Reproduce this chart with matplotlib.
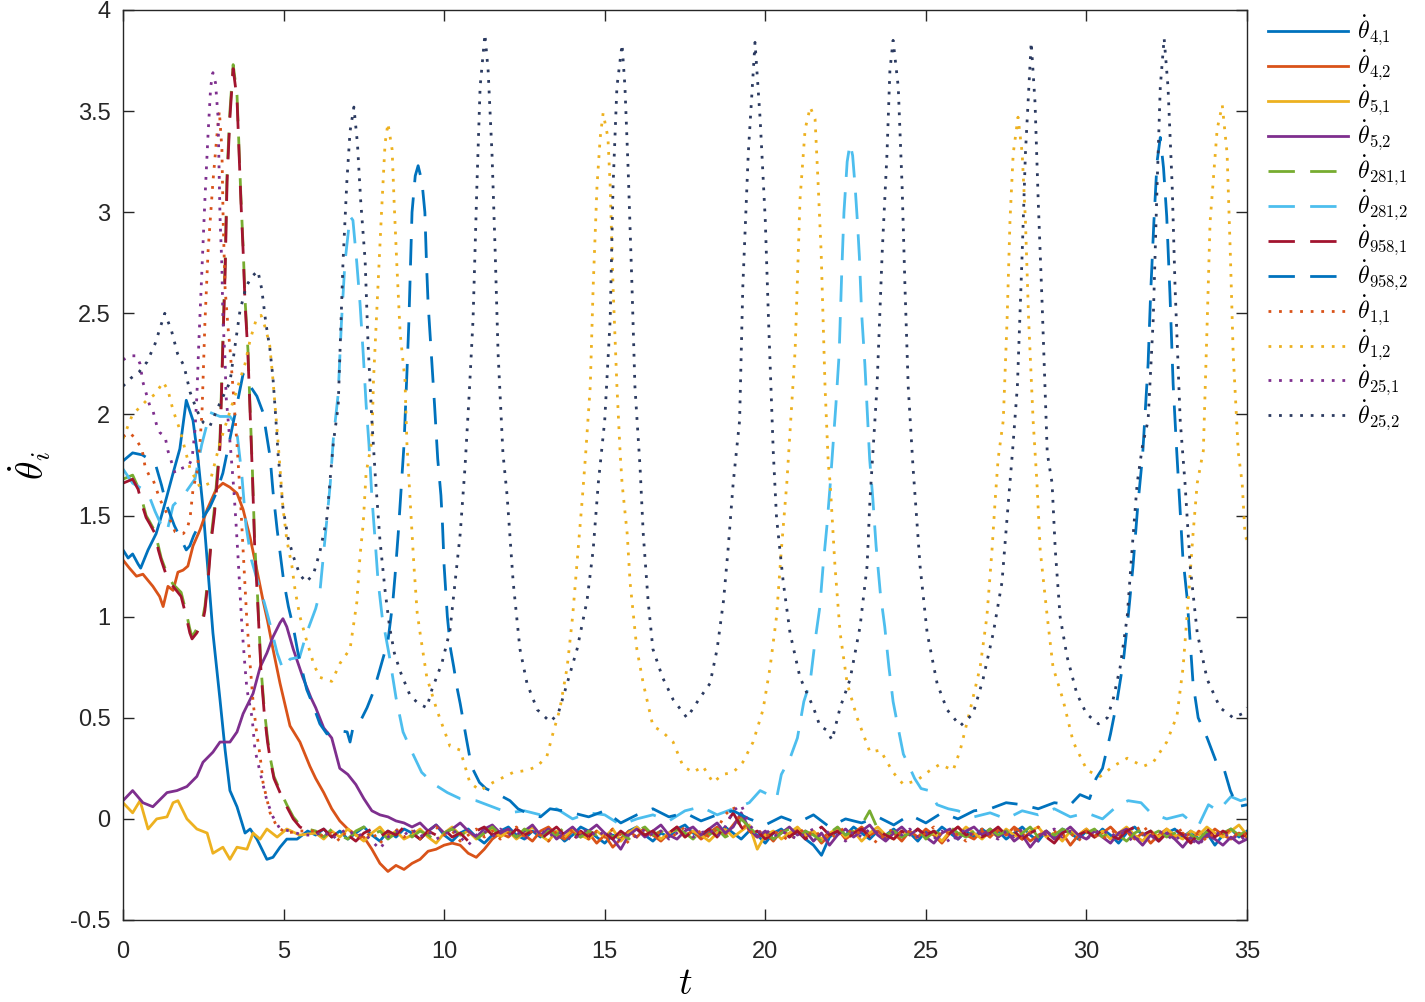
import numpy as np
import matplotlib
matplotlib.use('Agg')
import matplotlib.pyplot as plt
from matplotlib.ticker import FormatStrFormatter

plt.rcParams['mathtext.fontset'] = 'cm'
plt.rcParams['font.family'] = ['Liberation Sans', 'DejaVu Sans']

# ---------------- data ----------------
NOISE_T0 = 6.0      # first sample time of the noisy tails
NOISE_DT = 0.25     # sample spacing of the noisy tails

labels = [r'$\dot{\theta}_{4{,}1}$', r'$\dot{\theta}_{4{,}2}$', r'$\dot{\theta}_{5{,}1}$', r'$\dot{\theta}_{5{,}2}$',
          r'$\dot{\theta}_{281{,}1}$', r'$\dot{\theta}_{281{,}2}$', r'$\dot{\theta}_{958{,}1}$', r'$\dot{\theta}_{958{,}2}$',
          r'$\dot{\theta}_{1{,}1}$', r'$\dot{\theta}_{1{,}2}$', r'$\dot{\theta}_{25{,}1}$', r'$\dot{\theta}_{25{,}2}$']

head_4_1 = [(0, 1.33), (0.16, 1.29), (0.3, 1.31), (0.47, 1.26), (0.55, 1.24), (0.78, 1.33), (1.03, 1.41),
            (1.2, 1.50), (1.34, 1.58), (1.56, 1.71), (1.77, 1.83), (1.97, 2.07), (2.18, 1.97), (2.33, 1.79),
            (2.49, 1.54), (2.65, 1.22), (2.8, 0.92), (3.02, 0.59), (3.18, 0.34), (3.33, 0.14), (3.55, 0.06),
            (3.8, -0.07), (3.96, -0.05), (4.17, -0.10), (4.48, -0.20), (4.67, -0.19), (4.89, -0.14),
            (5.1, -0.10), (5.42, -0.10), (5.75, -0.06)]
noise_4_1 = [-0.08, -0.05, -0.09, -0.06, -0.10, -0.07, -0.04, -0.08, -0.11, -0.06, -0.09, -0.05,
             -0.07, -0.10, -0.06, -0.03, -0.08, -0.11, -0.07, -0.05, -0.09, -0.12, -0.08, -0.06,
             -0.04, -0.08, -0.10, -0.06, -0.09, -0.05, -0.07, -0.11, -0.08, -0.04, -0.06, -0.09,
             -0.12, -0.08, -0.10, -0.06, -0.04, -0.08, -0.11, -0.07, -0.09, -0.05, -0.03, -0.07,
             -0.09, -0.06, -0.08, -0.04, -0.07, -0.10, -0.06, -0.08, -0.12, -0.07, -0.05, -0.09,
             -0.06, -0.10, -0.13, -0.18, -0.09, -0.06, -0.08, -0.04, -0.07, -0.10, -0.06, -0.08,
             -0.05, -0.09, -0.07, -0.11, -0.06, -0.08, -0.04, -0.07, -0.10, -0.06, -0.09, -0.05,
             -0.08, -0.06, -0.10, -0.07, -0.04, -0.08, -0.11, -0.06, -0.09, -0.05, -0.07, -0.10,
             -0.06, -0.09, -0.05, -0.08, -0.12, -0.07, -0.04, -0.08, -0.06, -0.10, -0.07, -0.05,
             -0.09, -0.06, -0.10, -0.07, -0.13, -0.08, -0.05, -0.09, -0.06]

head_4_2 = [(0, 1.28), (0.2, 1.24), (0.42, 1.20), (0.62, 1.21), (0.93, 1.15), (1.14, 1.10), (1.25, 1.05),
            (1.4, 1.15), (1.56, 1.13), (1.71, 1.22), (1.87, 1.23), (2.02, 1.25), (2.18, 1.35), (2.4, 1.43),
            (2.62, 1.53), (2.9, 1.63), (3.11, 1.66), (3.33, 1.64), (3.55, 1.61), (3.74, 1.53), (3.96, 1.39),
            (4.17, 1.23), (4.36, 1.08), (4.5, 0.98), (4.67, 0.84), (4.89, 0.67), (5.2, 0.46), (5.51, 0.38),
            (5.82, 0.26)]
noise_4_2 = [0.20, 0.13, 0.05, -0.01, -0.05, -0.08, -0.09, -0.15, -0.22, -0.26, -0.23, -0.25,
             -0.22, -0.20, -0.16, -0.15, -0.13, -0.12, -0.13, -0.17, -0.19, -0.15, -0.10, -0.07,
             -0.09, -0.05, -0.08, -0.11, -0.06, -0.04, -0.08, -0.10, -0.06, -0.09, -0.07, -0.12,
             -0.08, -0.14, -0.10, -0.06, -0.09, -0.05, -0.08, -0.11, -0.07, -0.04, -0.08, -0.06,
             -0.10, -0.07, -0.04, -0.08, -0.03, 0.02, -0.06, -0.09, -0.07, -0.11, -0.06, -0.08,
             -0.05, -0.09, -0.07, -0.12, -0.08, -0.05, -0.10, -0.07, -0.04, -0.08, -0.06, -0.10,
             -0.07, -0.11, -0.06, -0.09, -0.05, -0.08, -0.12, -0.07, -0.04, -0.08, -0.10, -0.06,
             -0.09, -0.05, -0.08, -0.04, -0.07, -0.11, -0.08, -0.06, -0.10, -0.07, -0.13, -0.08,
             -0.05, -0.09, -0.07, -0.04, -0.08, -0.06, -0.10, -0.07, -0.12, -0.08, -0.05, -0.09,
             -0.07, -0.11, -0.06, -0.09, -0.05, -0.08, -0.10, -0.07, -0.09]

head_5_1 = [(0, 0.08), (0.3, 0.03), (0.53, 0.09), (0.78, -0.05), (1.05, 0.0), (1.37, 0.01), (1.56, 0.08),
            (1.71, 0.09), (1.99, 0.0), (2.3, -0.05), (2.62, -0.07), (2.8, -0.17), (3.11, -0.14), (3.33, -0.20),
            (3.55, -0.14), (3.86, -0.15), (4.05, -0.07), (4.27, -0.10), (4.48, -0.05), (4.8, -0.09),
            (5.1, -0.05), (5.5, -0.08)]
noise_5_1 = [-0.07, -0.10, -0.06, -0.09, -0.05, -0.08, -0.11, -0.07, -0.04, -0.09, -0.06, -0.10,
             -0.08, -0.05, -0.09, -0.12, -0.07, -0.04, -0.08, -0.06, -0.10, -0.07, -0.05, -0.09,
             -0.06, -0.10, -0.07, -0.04, -0.08, -0.11, -0.06, -0.09, -0.05, -0.08, -0.10, -0.06,
             -0.09, -0.05, -0.11, -0.07, -0.04, -0.08, -0.06, -0.10, -0.07, -0.05, -0.09, -0.06,
             -0.08, -0.11, -0.07, -0.05, -0.09, -0.06, -0.03, -0.15, -0.08, -0.06, -0.10, -0.07,
             -0.04, -0.08, -0.06, -0.10, -0.07, -0.05, -0.09, -0.06, -0.11, -0.07, -0.04, -0.08,
             -0.10, -0.06, -0.08, -0.05, -0.09, -0.07, -0.11, -0.06, -0.08, -0.04, -0.07, -0.10,
             -0.06, -0.09, -0.05, -0.08, -0.10, -0.06, -0.04, -0.09, -0.07, -0.11, -0.06, -0.08,
             -0.05, -0.09, -0.06, -0.10, -0.07, -0.04, -0.08, -0.11, -0.06, -0.09, -0.05, -0.08,
             -0.10, -0.06, -0.08, -0.04, -0.07, -0.09, -0.06, -0.03, -0.08]

head_5_2 = [(0, 0.09), (0.3, 0.14), (0.62, 0.08), (0.93, 0.06), (1.37, 0.13), (1.68, 0.14), (1.99, 0.16),
            (2.3, 0.21), (2.49, 0.28), (2.8, 0.33), (3.02, 0.38), (3.33, 0.38), (3.55, 0.43), (3.74, 0.52),
            (4.05, 0.62), (4.27, 0.75), (4.48, 0.82), (4.67, 0.90), (4.89, 0.97), (4.98, 0.99), (5.1, 0.95),
            (5.3, 0.84), (5.6, 0.70), (5.85, 0.60)]
noise_5_2 = [0.55, 0.45, 0.40, 0.25, 0.22, 0.17, 0.10, 0.04, 0.02, 0.01, -0.01, -0.02,
             -0.04, -0.02, -0.06, -0.03, -0.07, -0.05, -0.02, -0.06, -0.09, -0.05, -0.03, -0.07,
             -0.05, -0.09, -0.06, -0.03, -0.08, -0.05, -0.10, -0.07, -0.04, -0.08, -0.06, -0.03,
             -0.07, -0.10, -0.15, -0.08, -0.05, -0.09, -0.06, -0.03, -0.08, -0.10, -0.06, -0.04,
             -0.08, -0.05, -0.02, -0.07, -0.04, 0.03, -0.05, -0.09, -0.06, -0.10, -0.07, -0.04,
             -0.08, -0.06, -0.11, -0.07, -0.13, -0.08, -0.05, -0.09, -0.06, -0.03, -0.08, -0.11,
             -0.07, -0.04, -0.08, -0.05, -0.09, -0.12, -0.07, -0.05, -0.10, -0.06, -0.04, -0.08,
             -0.05, -0.09, -0.06, -0.11, -0.08, -0.14, -0.09, -0.06, -0.10, -0.07, -0.04, -0.08,
             -0.10, -0.06, -0.09, -0.12, -0.07, -0.05, -0.09, -0.13, -0.08, -0.11, -0.07, -0.10,
             -0.14, -0.09, -0.12, -0.08, -0.10, -0.13, -0.09, -0.12, -0.10]

head_281_1 = [(0, 1.68), (0.3, 1.70), (0.47, 1.64), (0.62, 1.56), (0.72, 1.50), (0.83, 1.47), (1.0, 1.42),
              (1.1, 1.35), (1.19, 1.29), (1.4, 1.20), (1.56, 1.16), (1.81, 1.12), (1.97, 1.02), (2.08, 0.94),
              (2.15, 0.90), (2.3, 0.94), (2.49, 1.0), (2.55, 1.05), (2.65, 1.20), (2.75, 1.40), (2.85, 1.54),
              (3.02, 1.88), (3.11, 2.38), (3.18, 2.75), (3.24, 3.19), (3.33, 3.50), (3.43, 3.73), (3.55, 3.58),
              (3.61, 3.33), (3.67, 3.08), (3.74, 2.83), (3.8, 2.57), (3.89, 2.32), (3.96, 2.02), (4.03, 1.72),
              (4.1, 1.37), (4.2, 1.07), (4.3, 0.74), (4.4, 0.54), (4.5, 0.40), (4.6, 0.29), (4.7, 0.21),
              (4.89, 0.14), (5.1, 0.07), (5.3, 0.01), (5.51, -0.03), (5.75, -0.05)]
noise_281_1 = [-0.06, -0.09, -0.05, -0.08, -0.10, -0.06, -0.04, -0.08, -0.06, -0.10, -0.07, -0.05,
               -0.09, -0.06, -0.08, -0.11, -0.07, -0.05, -0.08, -0.06, -0.10, -0.07, -0.04, -0.08,
               -0.06, -0.09, -0.05, -0.07, -0.10, -0.06, -0.08, -0.04, -0.07, -0.09, -0.06, -0.08,
               -0.05, -0.09, -0.07, -0.10, -0.06, -0.04, -0.08, -0.06, -0.09, -0.05, -0.07, -0.10,
               -0.06, -0.08, -0.05, -0.09, -0.07, 0.00, -0.04, -0.08, -0.06, -0.10, -0.07, -0.05,
               -0.09, -0.06, -0.08, -0.11, -0.07, -0.04, -0.08, -0.06, -0.03, 0.04, -0.05, -0.08,
               -0.06, -0.09, -0.07, -0.05, -0.10, -0.06, -0.08, -0.04, -0.07, -0.09, -0.06, -0.08,
               -0.05, -0.08, -0.06, -0.10, -0.07, -0.04, -0.09, -0.06, -0.08, -0.05, -0.07, -0.10,
               -0.07, -0.05, -0.09, -0.06, -0.08, -0.11, -0.07, -0.05, -0.08, -0.06, -0.09, -0.07,
               -0.05, -0.08, -0.10, -0.06, -0.09, -0.07, -0.05, -0.08, -0.06]

head_958_1 = [(0, 1.66), (0.3, 1.68), (0.47, 1.63), (0.62, 1.54), (0.72, 1.49), (0.83, 1.46), (1.0, 1.41),
              (1.1, 1.33), (1.19, 1.28), (1.4, 1.18), (1.56, 1.15), (1.81, 1.10), (1.97, 1.0), (2.08, 0.92),
              (2.15, 0.89), (2.3, 0.92), (2.49, 0.98), (2.55, 1.03), (2.65, 1.18), (2.75, 1.38), (2.85, 1.51),
              (3.02, 1.84), (3.11, 2.34), (3.18, 2.70), (3.24, 3.15), (3.33, 3.47), (3.43, 3.71), (3.55, 3.56),
              (3.61, 3.31), (3.67, 3.06), (3.74, 2.81), (3.8, 2.55), (3.89, 2.30), (3.96, 2.0), (4.03, 1.70),
              (4.1, 1.35), (4.2, 1.05), (4.3, 0.72), (4.4, 0.52), (4.5, 0.38), (4.6, 0.28), (4.7, 0.20),
              (4.89, 0.13), (5.1, 0.06), (5.3, 0.0), (5.51, -0.04), (5.75, -0.06)]
noise_958_1 = [-0.07, -0.05, -0.09, -0.06, -0.08, -0.11, -0.07, -0.05, -0.09, -0.06, -0.08, -0.04,
               -0.07, -0.10, -0.06, -0.08, -0.05, -0.09, -0.07, -0.11, -0.06, -0.04, -0.08, -0.06,
               -0.09, -0.05, -0.08, -0.06, -0.10, -0.07, -0.04, -0.08, -0.11, -0.06, -0.09, -0.05,
               -0.07, -0.10, -0.06, -0.09, -0.05, -0.08, -0.06, -0.10, -0.07, -0.04, -0.09, -0.06,
               -0.08, -0.05, -0.09, -0.03, 0.03, -0.04, -0.08, -0.06, -0.10, -0.07, -0.05, -0.09,
               -0.06, -0.10, -0.07, -0.04, -0.08, -0.06, -0.11, -0.07, -0.05, -0.09, -0.06, -0.08,
               -0.10, -0.06, -0.09, -0.05, -0.08, -0.06, -0.10, -0.07, -0.04, -0.08, -0.06, -0.09,
               -0.07, -0.04, -0.08, -0.06, -0.10, -0.07, -0.05, -0.09, -0.12, -0.07, -0.05, -0.08,
               -0.06, -0.09, -0.05, -0.08, -0.10, -0.06, -0.04, -0.08, -0.06, -0.11, -0.07, -0.05,
               -0.08, -0.12, -0.07, -0.05, -0.09, -0.06, -0.08, -0.10, -0.07]

head_1_1 = [(0, 1.89), (0.22, 1.91), (0.43, 1.87), (0.59, 1.83), (0.69, 1.74), (0.84, 1.69), (0.93, 1.68),
            (1.15, 1.58), (1.37, 1.51), (1.52, 1.46), (1.62, 1.42), (1.78, 1.41), (1.87, 1.41), (1.99, 1.43),
            (2.09, 1.49), (2.18, 1.63), (2.3, 1.71), (2.4, 1.87), (2.46, 2.01), (2.55, 2.45), (2.65, 2.81),
            (2.8, 3.15), (2.93, 3.39), (3.0, 3.50), (3.08, 3.31), (3.12, 2.95), (3.18, 2.62), (3.27, 2.43),
            (3.33, 2.33), (3.43, 2.12), (3.55, 1.85), (3.65, 1.60), (3.75, 1.30), (3.85, 1.00), (3.95, 0.78),
            (4.05, 0.58), (4.15, 0.44), (4.27, 0.31), (4.36, 0.18), (4.58, 0.03), (4.8, -0.04), (5.1, -0.07),
            (5.5, -0.06)]
noise_1_1 = [-0.06, -0.09, -0.07, -0.11, -0.05, -0.08, -0.10, -0.06, -0.12, -0.08, -0.05, -0.09,
             -0.06, -0.10, -0.07, -0.04, -0.08, -0.06, -0.11, -0.08, -0.05, -0.09, -0.06, -0.10,
             -0.07, -0.04, -0.09, -0.06, -0.08, -0.11, -0.06, -0.09, -0.05, -0.07, -0.10, -0.06,
             -0.09, -0.05, -0.08, -0.12, -0.07, -0.05, -0.09, -0.06, -0.10, -0.07, -0.04, -0.08,
             -0.06, -0.09, -0.05, 0.02, 0.06, -0.02, -0.07, -0.05, -0.09, -0.06, -0.08, -0.11,
             -0.07, -0.05, -0.09, -0.06, -0.10, -0.07, -0.04, -0.08, -0.06, -0.09, -0.12, -0.07,
             -0.05, -0.08, -0.06, -0.10, -0.07, -0.04, -0.09, -0.06, -0.08, -0.11, -0.07, -0.05,
             -0.09, -0.06, -0.08, -0.05, -0.10, -0.07, -0.04, -0.08, -0.06, -0.09, -0.07, -0.11,
             -0.06, -0.08, -0.10, -0.07, -0.05, -0.09, -0.06, -0.03, -0.08, -0.06, -0.09, -0.07,
             -0.05, -0.09, -0.07, -0.11, -0.06, -0.08, -0.05, -0.09, -0.07]

head_25_1 = [(0, 2.27), (0.22, 2.29), (0.43, 2.29), (0.53, 2.25), (0.62, 2.16), (0.84, 2.04), (0.93, 2.02),
             (1.06, 1.94), (1.15, 1.91), (1.31, 1.89), (1.4, 1.82), (1.52, 1.76), (1.62, 1.71), (1.78, 1.73),
             (1.93, 1.74), (2.02, 1.74), (2.15, 1.78), (2.24, 1.92), (2.3, 2.09), (2.36, 2.35), (2.46, 2.73),
             (2.55, 3.06), (2.65, 3.39), (2.73, 3.62), (2.8, 3.69), (2.88, 3.64), (2.96, 3.47), (2.99, 3.22),
             (3.02, 2.98), (3.08, 2.73), (3.11, 2.48), (3.18, 2.26), (3.21, 2.09), (3.3, 1.92), (3.36, 1.81),
             (3.45, 1.63), (3.52, 1.46), (3.58, 1.30), (3.64, 1.13), (3.7, 0.96), (3.8, 0.75), (3.86, 0.64),
             (4.02, 0.50), (4.11, 0.34), (4.27, 0.23), (4.48, 0.09), (4.67, 0.01), (4.89, -0.05),
             (5.2, -0.06), (5.6, -0.08)]
noise_25_1 = [-0.08, -0.06, -0.10, -0.07, -0.05, -0.09, -0.07, -0.11, -0.15, -0.09, -0.06, -0.08,
              -0.05, -0.09, -0.06, -0.10, -0.08, -0.05, -0.09, -0.13, -0.08, -0.06, -0.09, -0.05,
              -0.08, -0.06, -0.10, -0.07, -0.05, -0.09, -0.06, -0.08, -0.11, -0.07, -0.05, -0.09,
              -0.06, -0.08, -0.11, -0.07, -0.09, -0.05, -0.08, -0.06, -0.10, -0.07, -0.05, -0.09,
              -0.07, -0.05, -0.09, -0.04, 0.04, 0.07, -0.03, -0.07, -0.05, -0.09, -0.06, -0.08,
              -0.10, -0.07, -0.05, -0.09, -0.06, -0.08, -0.11, -0.06, -0.09, -0.05, -0.07, -0.10,
              -0.06, -0.08, -0.05, -0.09, -0.07, -0.10, -0.06, -0.12, -0.08, -0.05, -0.09, -0.06,
              -0.08, -0.10, -0.06, -0.09, -0.05, -0.08, -0.11, -0.07, -0.05, -0.09, -0.06, -0.08,
              -0.10, -0.07, -0.05, -0.09, -0.06, -0.08, -0.12, -0.07, -0.10, -0.06, -0.08, -0.11,
              -0.07, -0.10, -0.13, -0.08, -0.06, -0.09, -0.07, -0.11, -0.08]

full_281_2 = [(0, 1.73), (0.3, 1.66), (0.62, 1.63), (0.83, 1.59), (1.0, 1.52), (1.2, 1.45), (1.37, 1.42),
              (1.56, 1.55), (1.93, 1.61), (2.24, 1.68), (2.45, 1.85), (2.71, 2.01), (3.02, 1.99), (3.33, 1.99),
              (3.52, 1.95), (3.7, 1.70), (3.83, 1.45), (4.0, 1.28), (4.2, 1.17), (4.4, 1.07), (4.6, 0.95),
              (4.8, 0.82), (4.98, 0.74), (5.2, 0.79), (5.5, 0.80), (5.72, 0.92), (6.0, 1.04), (6.13, 1.12),
              (6.3, 1.40), (6.45, 1.65), (6.55, 1.88), (6.7, 2.10), (6.8, 2.45), (6.91, 2.75), (7.07, 2.98),
              (7.16, 2.96), (7.28, 2.75), (7.38, 2.55), (7.48, 2.30), (7.57, 2.05), (7.66, 1.85), (7.75, 1.59),
              (7.85, 1.38), (7.94, 1.18), (8.07, 1.0), (8.3, 0.80), (8.5, 0.60), (8.72, 0.43), (9.0, 0.33),
              (9.3, 0.23), (9.7, 0.17), (10.1, 0.13), (10.5, 0.10), (11.0, 0.09), (11.5, 0.06), (12.0, 0.03),
              (12.5, 0.04), (13.0, 0.02), (13.5, 0.05), (14.0, 0.0), (14.5, 0.03), (15.0, 0.02), (15.5, -0.03),
              (16.0, 0.0), (16.5, 0.02), (17.0, -0.01), (17.5, 0.04), (18.0, 0.06), (18.5, 0.02), (19.0, 0.05),
              (19.5, 0.08), (19.84, 0.14), (20.1, 0.12), (20.35, 0.10), (20.5, 0.22), (20.77, 0.30),
              (21.0, 0.40), (21.2, 0.58), (21.4, 0.68), (21.55, 0.88), (21.7, 1.05), (21.8, 1.25),
              (21.92, 1.45), (22.02, 1.65), (22.11, 1.85), (22.2, 2.05), (22.3, 2.30), (22.38, 2.70),
              (22.45, 3.0), (22.55, 3.25), (22.64, 3.34), (22.72, 3.28), (22.8, 3.12), (22.87, 2.95),
              (22.93, 2.78), (23.0, 2.50), (23.1, 2.25), (23.18, 2.0), (23.25, 1.78), (23.35, 1.58),
              (23.45, 1.35), (23.58, 1.12), (23.72, 0.95), (23.85, 0.75), (23.98, 0.58), (24.15, 0.44),
              (24.3, 0.32), (24.45, 0.27), (24.65, 0.20), (24.85, 0.15), (25.1, 0.14), (25.35, 0.07),
              (25.7, 0.05), (26.0, 0.04), (26.5, 0.01), (27.0, 0.03), (27.5, 0.0), (28.0, 0.04), (28.5, 0.02),
              (29.0, 0.05), (29.5, 0.01), (30.0, 0.03), (30.5, 0.0), (31.0, 0.07), (31.3, 0.09), (31.7, 0.08),
              (32.0, 0.03), (32.5, 0.0), (33.0, 0.02), (33.3, -0.02), (33.5, -0.03), (33.8, 0.07),
              (34.1, 0.04), (34.5, 0.11), (34.8, 0.09), (35.0, 0.10)]

full_958_2 = [(0, 1.77), (0.3, 1.81), (0.6, 1.80), (1.0, 1.76), (1.2, 1.65), (1.34, 1.56), (1.6, 1.45),
              (1.97, 1.33), (2.08, 1.35), (2.2, 1.40), (2.45, 1.48), (2.7, 1.54), (2.9, 1.61), (3.11, 1.71),
              (3.33, 1.88), (3.55, 2.05), (3.74, 2.20), (3.96, 2.14), (4.17, 2.09), (4.36, 2.01), (4.58, 1.79),
              (4.67, 1.62), (4.8, 1.43), (5.0, 1.18), (5.15, 1.05), (5.3, 0.95), (5.45, 0.82), (5.72, 0.64),
              (5.9, 0.57), (6.13, 0.47), (6.35, 0.42), (6.6, 0.44), (6.98, 0.43), (7.07, 0.38), (7.16, 0.45),
              (7.38, 0.48), (7.6, 0.55), (7.8, 0.63), (8.0, 0.74), (8.25, 0.88), (8.4, 1.07), (8.47, 1.20),
              (8.57, 1.41), (8.66, 1.63), (8.75, 1.85), (8.84, 2.20), (8.9, 2.45), (9.0, 3.0), (9.1, 3.18),
              (9.19, 3.23), (9.31, 3.15), (9.4, 3.0), (9.45, 2.75), (9.5, 2.55), (9.6, 2.30), (9.7, 2.05),
              (9.8, 1.78), (9.9, 1.60), (9.95, 1.45), (10.0, 1.25), (10.1, 1.0), (10.2, 0.84), (10.3, 0.75),
              (10.4, 0.65), (10.5, 0.57), (10.6, 0.48), (10.7, 0.39), (10.85, 0.26), (11.1, 0.18), (11.3, 0.15),
              (11.7, 0.12), (12.05, 0.09), (12.3, 0.05), (12.7, 0.02), (13.0, 0.01), (13.3, 0.05), (13.7, 0.04),
              (14.0, 0.03), (14.5, 0.01), (15.0, 0.04), (15.5, -0.02), (16.0, 0.02), (16.5, 0.05), (17.0, 0.01),
              (17.5, 0.03), (18.0, -0.01), (18.5, 0.02), (19.0, 0.04), (19.5, 0.0), (20.0, -0.03), (20.5, 0.01),
              (21.0, -0.02), (21.5, 0.02), (22.0, -0.04), (22.5, 0.0), (23.0, -0.02), (23.5, 0.01),
              (24.0, -0.03), (24.5, 0.02), (25.0, -0.02), (25.5, 0.03), (26.0, 0.0), (26.5, 0.04), (27.0, 0.05),
              (27.5, 0.08), (28.0, 0.07), (28.5, 0.05), (29.0, 0.08), (29.5, 0.07), (29.8, 0.12), (30.1, 0.10),
              (30.3, 0.20), (30.5, 0.25), (30.75, 0.42), (30.95, 0.58), (31.15, 0.78), (31.3, 1.0),
              (31.45, 1.25), (31.6, 1.55), (31.75, 1.80), (31.92, 2.25), (32.0, 2.60), (32.1, 2.95),
              (32.2, 3.25), (32.3, 3.37), (32.4, 3.22), (32.5, 2.98), (32.6, 2.60), (32.7, 2.15), (32.8, 1.85),
              (32.92, 1.52), (33.0, 1.30), (33.13, 1.10), (33.23, 0.88), (33.32, 0.67), (33.48, 0.50),
              (33.76, 0.40), (34.07, 0.27), (34.26, 0.26), (34.48, 0.14), (34.7, 0.06), (35.0, 0.07)]

full_1_2 = [(0, 1.88), (0.22, 1.97), (0.3, 2.0), (0.74, 2.07), (1.0, 2.10), (1.25, 2.16), (1.4, 2.12),
            (1.56, 2.02), (1.78, 1.92), (1.99, 1.79), (2.09, 1.73), (2.4, 1.64), (2.7, 1.66), (3.02, 1.86),
            (3.3, 2.0), (3.6, 2.15), (3.8, 2.25), (3.96, 2.37), (4.15, 2.47), (4.3, 2.49), (4.45, 2.42),
            (4.57, 2.34), (4.67, 2.17), (4.83, 1.86), (4.98, 1.54), (5.1, 1.38), (5.26, 1.25), (5.36, 1.13),
            (5.51, 1.0), (5.72, 0.88), (5.95, 0.76), (6.13, 0.70), (6.5, 0.68), (6.76, 0.77), (7.07, 0.84),
            (7.28, 1.07), (7.38, 1.30), (7.48, 1.46), (7.57, 1.71), (7.75, 1.87), (7.8, 2.17), (7.9, 2.50),
            (8.05, 3.0), (8.16, 3.34), (8.25, 3.44), (8.38, 3.31), (8.44, 3.06), (8.53, 2.73), (8.63, 2.40),
            (8.78, 2.17), (8.84, 1.86), (8.95, 1.55), (9.06, 1.25), (9.16, 1.02), (9.25, 0.92), (9.46, 0.70),
            (9.77, 0.54), (10.18, 0.36), (10.5, 0.34), (10.8, 0.18), (11.12, 0.14), (11.52, 0.18),
            (12.15, 0.23), (12.58, 0.24), (12.9, 0.26), (13.2, 0.31), (13.4, 0.43), (13.6, 0.54),
            (13.83, 0.75), (14.0, 1.0), (14.17, 1.33), (14.3, 1.58), (14.4, 1.79), (14.55, 2.14),
            (14.64, 2.63), (14.76, 3.13), (14.86, 3.37), (14.95, 3.49), (15.1, 3.37), (15.17, 3.13),
            (15.26, 2.63), (15.38, 2.14), (15.48, 1.81), (15.54, 1.66), (15.7, 1.41), (15.79, 1.17),
            (16.0, 0.84), (16.2, 0.67), (16.5, 0.46), (16.8, 0.43), (17.13, 0.38), (17.44, 0.26),
            (17.75, 0.23), (18.06, 0.26), (18.37, 0.18), (18.68, 0.22), (19.0, 0.23), (19.3, 0.28),
            (19.62, 0.38), (19.93, 0.54), (20.15, 0.75), (20.35, 1.0), (20.5, 1.33), (20.67, 1.66),
            (20.93, 2.32), (21.08, 3.06), (21.24, 3.41), (21.4, 3.52), (21.55, 3.46), (21.64, 3.16),
            (21.74, 2.80), (21.8, 2.47), (21.86, 2.14), (21.96, 1.76), (22.02, 1.66), (22.17, 1.25),
            (22.33, 0.92), (22.55, 0.67), (22.86, 0.50), (23.26, 0.33), (23.58, 0.34), (23.98, 0.23),
            (24.3, 0.17), (24.72, 0.19), (25.13, 0.24), (25.44, 0.27), (25.85, 0.24), (26.07, 0.34),
            (26.38, 0.54), (26.69, 0.75), (26.9, 1.0), (27.06, 1.33), (27.16, 1.58), (27.25, 1.78),
            (27.41, 1.97), (27.53, 2.47), (27.62, 2.96), (27.72, 3.29), (27.87, 3.47), (28.0, 3.29),
            (28.1, 2.96), (28.2, 2.47), (28.34, 1.97), (28.46, 1.66), (28.56, 1.33), (28.78, 1.0),
            (28.96, 0.75), (29.27, 0.59), (29.59, 0.38), (30.02, 0.24), (30.43, 0.21), (30.83, 0.26),
            (31.27, 0.30), (31.77, 0.26), (32.08, 0.28), (32.5, 0.38), (32.82, 0.51), (33.01, 0.75),
            (33.17, 1.08), (33.32, 1.41), (33.45, 1.66), (33.64, 1.82), (33.75, 2.40), (33.85, 2.95),
            (34.07, 3.41), (34.23, 3.53), (34.38, 3.29), (34.48, 2.80), (34.57, 2.30), (34.73, 1.81),
            (34.85, 1.66), (34.94, 1.40), (35.0, 1.38)]

full_25_2 = [(0, 2.14), (0.25, 2.18), (0.5, 2.21), (0.75, 2.26), (1.0, 2.35), (1.3, 2.50), (1.5, 2.42),
             (1.7, 2.30), (1.9, 2.24), (2.09, 2.11), (2.3, 2.02), (2.5, 1.96), (2.7, 1.94), (3.0, 2.05),
             (3.33, 2.16), (3.5, 2.35), (3.64, 2.51), (3.83, 2.63), (4.0, 2.68), (4.2, 2.71), (4.32, 2.62),
             (4.45, 2.45), (4.57, 2.33), (4.67, 2.18), (4.75, 2.0), (4.83, 1.80), (4.98, 1.54), (5.14, 1.39),
             (5.3, 1.30), (5.5, 1.21), (5.7, 1.17), (5.93, 1.21), (6.13, 1.32), (6.35, 1.49), (6.45, 1.68),
             (6.55, 1.86), (6.7, 2.04), (6.76, 2.33), (6.85, 2.75), (6.97, 3.15), (7.07, 3.40), (7.19, 3.52),
             (7.3, 3.34), (7.4, 3.06), (7.54, 2.76), (7.63, 2.35), (7.75, 1.97), (7.85, 1.71), (8.0, 1.38),
             (8.16, 1.13), (8.3, 0.95), (8.45, 0.82), (8.63, 0.73), (8.94, 0.61), (9.2, 0.57), (9.46, 0.55),
             (9.62, 0.64), (9.93, 0.77), (10.18, 0.93), (10.34, 1.17), (10.5, 1.41), (10.65, 1.74),
             (10.78, 2.10), (10.9, 2.47), (11.02, 3.13), (11.12, 3.62), (11.27, 3.88), (11.37, 3.70),
             (11.49, 3.29), (11.59, 2.80), (11.68, 2.30), (11.83, 1.81), (11.96, 1.60), (12.15, 1.17),
             (12.36, 0.84), (12.58, 0.67), (12.9, 0.54), (13.3, 0.48), (13.55, 0.52), (13.83, 0.67),
             (14.14, 0.84), (14.45, 1.08), (14.64, 1.33), (14.8, 1.66), (15.0, 1.97), (15.17, 2.47),
             (15.26, 3.13), (15.38, 3.62), (15.54, 3.83), (15.63, 3.62), (15.73, 3.21), (15.85, 2.63),
             (15.94, 2.14), (16.1, 1.74), (16.2, 1.41), (16.35, 1.08), (16.5, 0.84), (16.8, 0.70),
             (17.13, 0.59), (17.56, 0.50), (17.97, 0.60), (18.28, 0.67), (18.5, 0.84), (18.7, 1.08),
             (18.84, 1.33), (19.0, 1.66), (19.2, 1.97), (19.3, 2.63), (19.47, 3.29), (19.68, 3.84),
             (19.84, 3.46), (20.0, 2.96), (20.1, 2.47), (20.25, 1.81), (20.35, 1.49), (20.56, 1.17),
             (20.77, 0.92), (21.08, 0.70), (21.5, 0.55), (21.7, 0.46), (21.9, 0.44), (22.08, 0.39),
             (22.33, 0.55), (22.64, 0.69), (22.95, 0.95), (23.17, 1.25), (23.26, 1.58), (23.48, 2.14),
             (23.64, 2.80), (23.79, 3.29), (23.88, 3.70), (23.98, 3.85), (24.14, 3.62), (24.26, 3.13),
             (24.35, 2.63), (24.45, 2.14), (24.6, 1.74), (24.82, 1.25), (25.04, 0.92), (25.35, 0.67),
             (25.66, 0.54), (26.07, 0.46), (26.47, 0.52), (26.78, 0.69), (27.1, 0.92), (27.37, 1.17),
             (27.53, 1.49), (27.7, 1.82), (27.85, 2.14), (28.0, 2.80), (28.1, 3.29), (28.28, 3.84),
             (28.4, 3.54), (28.5, 3.05), (28.62, 2.55), (28.78, 1.81), (28.93, 1.66), (29.03, 1.33),
             (29.18, 1.0), (29.4, 0.80), (29.7, 0.62), (30.0, 0.52), (30.37, 0.47), (30.65, 0.50),
             (30.83, 0.59), (31.05, 0.75), (31.27, 1.0), (31.42, 1.33), (31.58, 1.66), (31.75, 1.85),
             (31.92, 1.97), (32.08, 2.47), (32.2, 3.13), (32.3, 3.62), (32.42, 3.86), (32.54, 3.62),
             (32.67, 3.13), (32.76, 2.63), (32.92, 1.97), (33.07, 1.66), (33.23, 1.25), (33.45, 0.92),
             (33.76, 0.69), (34.16, 0.55), (34.57, 0.50), (34.85, 0.52), (35.0, 0.55)]

xticks = [0, 5, 10, 15, 20, 25, 30, 35]
yticks = [-0.5, 0, 0.5, 1, 1.5, 2, 2.5, 3, 3.5, 4]

# ---------------- styles ----------------
C_BLUE, C_ORANGE, C_YELLOW, C_PURPLE = '#0072BD', '#D95319', '#EDB120', '#7E2F8E'
C_GREEN, C_LBLUE, C_RED, C_NAVY = '#77AC30', '#4DBEEE', '#A2142F', '#2B3A60'
SOLID = '-'
DASH = (0, (9.5, 5.5))
DOT = (0, (1, 2.8))


def build(head, noise=None):
    t = [p[0] for p in head]
    v = [p[1] for p in head]
    if noise is not None:
        tn = NOISE_T0 + NOISE_DT * np.arange(len(noise))
        t = list(t) + list(tn)
        v = list(v) + list(noise)
    return np.asarray(t), np.asarray(v)


series = [
    (build(head_4_1, noise_4_1), C_BLUE, SOLID),
    (build(head_4_2, noise_4_2), C_ORANGE, SOLID),
    (build(head_5_1, noise_5_1), C_YELLOW, SOLID),
    (build(head_5_2, noise_5_2), C_PURPLE, SOLID),
    (build(head_281_1, noise_281_1), C_GREEN, DASH),
    (build(full_281_2), C_LBLUE, DASH),
    (build(head_958_1, noise_958_1), C_RED, DASH),
    (build(full_958_2), C_BLUE, DASH),
    (build(head_1_1, noise_1_1), C_ORANGE, DOT),
    (build(full_1_2), C_YELLOW, DOT),
    (build(head_25_1, noise_25_1), C_PURPLE, DOT),
    (build(full_25_2), C_NAVY, DOT),
]

W, H = 1425, 1002
fig = plt.figure(figsize=(W / 100, H / 100), dpi=100)
ax = fig.add_axes([123 / W, 1 - 920 / H, (1247 - 123) / W, (920 - 10) / H])

LW = 2.0
for ((t, v), col, ls), lab in zip(series, labels):
    ax.plot(t, v, color=col, linestyle=ls, linewidth=LW, label=lab,
            dash_capstyle='butt', solid_joinstyle='round')

ax.set_xlim(0, 35)
ax.set_ylim(-0.5, 4)
ax.set_xticks(xticks)
ax.set_yticks(yticks)
ax.yaxis.set_major_formatter(FormatStrFormatter('%g'))
ax.tick_params(direction='in', length=8, width=1.0, top=True, right=True,
               labelsize=17, colors='#262626')
ax.tick_params(axis='x', pad=15)
ax.tick_params(axis='y', pad=9)
for sp in ax.spines.values():
    sp.set_linewidth(1.0)
    sp.set_color('#262626')

ax.set_xlabel(r'$t$', fontsize=27, labelpad=2)
ax.set_ylabel(r'$\dot{\theta}_i$', fontsize=27, labelpad=12)

leg = fig.legend(loc='upper left', bbox_to_anchor=(1268 / W, 1 - 14 / H), frameon=False,
                 fontsize=17, handlelength=3.4, handletextpad=0.35, labelspacing=0.02,
                 borderaxespad=0.0, borderpad=0.0)
for line in leg.get_lines():
    line.set_linewidth(LW)

fig.savefig('out.png', dpi=100)
